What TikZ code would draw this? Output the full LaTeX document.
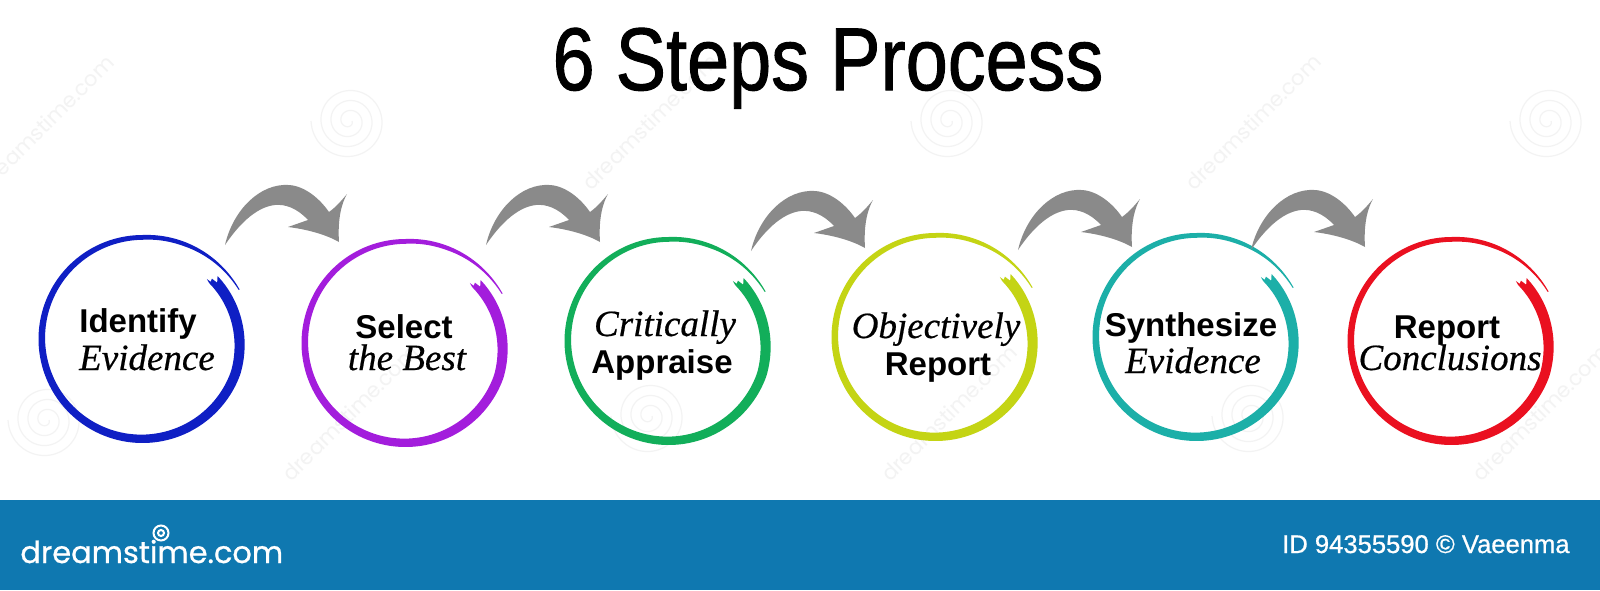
\documentclass[tikz,border=0pt]{standalone}
\usepackage{fontspec}
\setmainfont{Liberation Sans}
\newfontfamily\titlefont[FakeBold=1.2]{Liberation Sans}
\newfontfamily\creditfont[FakeBold=0.8]{Liberation Sans}
\newfontfamily\handfont[ItalicFeatures={FakeBold=0.5}]{Liberation Serif}
\newfontfamily\logofont{Poppins}
\newfontfamily\logoheavy[FakeBold=0.8]{Poppins}
\definecolor{cblue}{HTML}{0F1FC4}
\definecolor{cpurple}{HTML}{A31DDC}
\definecolor{cgreen}{HTML}{12AE5A}
\definecolor{colive}{HTML}{C4D414}
\definecolor{cteal}{HTML}{1CAFA8}
\definecolor{cred}{HTML}{EA1020}
\definecolor{arrowgray}{HTML}{8A8A8A}
\definecolor{banner}{HTML}{0F78B0}
\definecolor{wm}{HTML}{F3F3F3}
\tikzset{
  x=0.5pt,y=-0.5pt,
  boldlabel/.style={font=\fontsize{16.5}{18}\selectfont\bfseries,anchor=base,inner sep=0pt,text=black},
  handlabel/.style={font=\fontsize{18.5}{20}\handfont\itshape,anchor=base,inner sep=0pt,text=black},
  bigarrow/.style={fill=arrowgray,draw=none},
  spiralmark/.style={draw=wm,line width=0.6pt},
  wmtext/.style={font=\fontsize{10.5}{12}\logofont,text=wm,rotate=45,inner sep=0pt},
}
% brush ring: \brushring{name}{x}{y}{colour}
\newcommand{\brushring}[4]{%
  \coordinate (#1) at (#2,#3);
  \fill[#4,shift={(#2,#3)}]
    plot[domain=27:400,samples=120,smooth,variable=\t]
      ({(104+5*max(0,(90-\t)/63)-0.1*max(0,\t-340))*cos(\t)},
       {-(104+5*max(0,(90-\t)/63)-0.1*max(0,\t-340))*sin(\t)})
    -- ({93.5*cos(397)},{-93.5*sin(397)})
    -- ({92*cos(401)},{-92*sin(401)})
    -- ({89*cos(400)},{-89*sin(400)})
    -- ({88*cos(403)},{-88*sin(403)})
    -- plot[domain=400:27,samples=120,smooth,variable=\t]
      ({(104+5*max(0,(90-\t)/63)-0.1*max(0,\t-340)-(1+2.5*min(1,(\t-27)/40)+7.5*(\t-27)/373))*cos(\t)},
       {-(104+5*max(0,(90-\t)/63)-0.1*max(0,\t-340)-(1+2.5*min(1,(\t-27)/40)+7.5*(\t-27)/373))*sin(\t)})
    -- cycle;
}
% curved arrow that starts at a named coordinate
\newcommand{\curvearrow}[3]{%
  \coordinate (#1) at (#2,#3);
  \fill[bigarrow,shift={(#2,#3)}]
    (0,0) .. controls (8,-35) and (35,-62) .. (64,-60)
    .. controls (80,-59) and (95,-46) .. (104,-33)
    .. controls (111,-38) and (117,-45) .. (122,-51)
    .. controls (114,-37) and (113,-18) .. (114,-3)
    .. controls (100,-11) and (80,-16) .. (63,-18)
    -- (83,-25)
    .. controls (72,-37) and (60,-41) .. (50,-40)
    .. controls (30,-38) and (12,-18) .. (0,0) -- cycle;
}
\newcommand{\spiralwm}[3]{%
  \coordinate (#1) at (#2,#3);
  \draw[spiralmark,shift={(#2,#3)}] plot[domain=0:1260,samples=120,smooth,variable=\t]
    ({(3+\t/36)*cos(\t)},{(3+\t/36)*sin(\t)});
}
\begin{document}
\begin{tikzpicture}
\useasboundingbox (0,0) rectangle (1600,590);
\fill[white] (0,0) rectangle (1600,590);
% faint watermark
\spiralwm{wa}{349}{121}
\spiralwm{wb}{949}{121}
\spiralwm{wc}{1548}{121}
\spiralwm{wd}{46}{420}
\spiralwm{we}{649}{416}
\spiralwm{wf}{1250}{416}
\node[wmtext] (wt1) at (46,123) {dreamstime.com};
\node[wmtext] (wt2) at (650,122) {dreamstime.com};
\node[wmtext] (wt3) at (1253,122) {dreamstime.com};
\node[wmtext] (wt4) at (350,413) {dreamstime.com};
\node[wmtext] (wt5) at (949,413) {dreamstime.com};
\node[wmtext] (wt6) at (1540,413) {dreamstime.com};
% title
\node[name=title,font=\fontsize{44.5}{48}\titlefont,xscale=0.85,anchor=base,inner sep=0pt] at (828,90) {6 Steps Process};
% rings
\brushring{c1}{142.5}{339}{cblue}
\brushring{c2}{405.5}{343}{cpurple}
\brushring{c3}{668.5}{341}{cgreen}
\brushring{c4}{935.5}{337}{colive}
\brushring{c5}{1196.5}{337}{cteal}
\brushring{c6}{1451.5}{341}{cred}
% arrows
\curvearrow{a1}{225}{245}
\curvearrow{a2}{486}{245}
\curvearrow{a3}{751}{251}
\curvearrow{a4}{1018}{250}
\curvearrow{a5}{1251}{250}
% labels
\node[boldlabel] (l1a) at (138,332) {Identify};
\node[handlabel] (l1b) at (147,370) {Evidence};
\node[boldlabel] (l2a) at (404,338) {Select};
\node[handlabel] (l2b) at (407,370) {the Best};
\node[handlabel] (l3a) at (665,336) {Critically};
\node[boldlabel] (l3b) at (662,373) {Appraise};
\node[handlabel] (l4a) at (936,338) {Objectively};
\node[boldlabel] (l4b) at (938,375) {Report};
\node[boldlabel] (l5a) at (1191,336) {Synthesize};
\node[handlabel] (l5b) at (1193,373) {Evidence};
\node[boldlabel] (l6a) at (1447,338) {Report};
\node[handlabel] (l6b) at (1450,370) {Conclusions};
% banner
\fill[banner] (0,500) rectangle (1600,590);
\node[name=logo,font=\fontsize{15.2}{17}\logoheavy,text=white,anchor=base west,inner sep=0pt] at (20,563) {dreamstime.com};
\coordinate (sw) at (161,533);
\draw[white,line width=1pt] (sw) circle[radius=7.5];
\draw[white,line width=1pt] (sw) circle[radius=3];
\node[name=credit,font=\fontsize{12.8}{14}\creditfont,text=white,anchor=base east,inner sep=0pt] at (1570,553) {ID 94355590 © Vaeenma};
\end{tikzpicture}
\end{document}
